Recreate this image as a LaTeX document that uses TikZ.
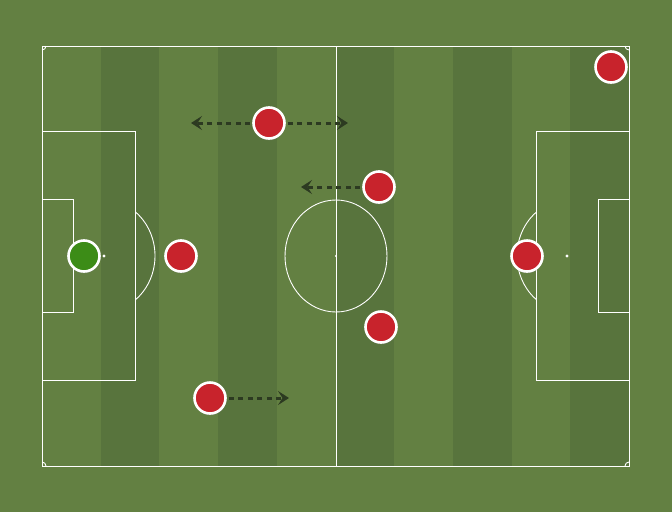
\documentclass[tikz,border=0pt]{standalone}
\usetikzlibrary{arrows.meta,shadows}
\definecolor{grass}{HTML}{638042}
\definecolor{darkgrass}{HTML}{58743D}
\definecolor{shirt}{HTML}{C8232C}
\definecolor{keeper}{HTML}{3C8C17}
\definecolor{runline}{HTML}{2C3A21}
\tikzset{
    player/.style={circle, draw=white, line width=2.6pt, minimum size=31pt, inner sep=0pt,
        drop shadow={shadow xshift=0.4pt, shadow yshift=-1.8pt, opacity=0.4}},
    run/.style={runline, line width=3pt, dash pattern=on 5pt off 4.5pt,
        -{Stealth[length=11pt,width=14pt,inset=4.5pt]}},
    pitchline/.style={white, line width=0.9pt}
}
\begin{document}
\begin{tikzpicture}[x=1pt,y=1pt]
            \useasboundingbox (0,0) rectangle (672,-512);
            \fill [grass] (0,0) rectangle (672,-512);
                % stripes
                \foreach \i in {1,3,5,7,9}
                    \fill [darkgrass] (42+\i*58.7,-46) rectangle +(58.7,-420);
                % pitch
                \draw [pitchline] (42,-46) rectangle (629,-466);
                \draw [pitchline] (336,-46) -- (336,-466);
                \draw [pitchline] (336,-256) ellipse (51 and 56);
                \fill [white] (336,-256) circle (1.2);
                % left half
                \draw [pitchline] (42,-131) rectangle (135.5,-380);
                \draw [pitchline] (42,-199) rectangle (73,-312);
                \fill [white] (104,-256) circle (1.6);
                \draw [pitchline] (135.5,-212) arc [start angle=51.6, end angle=-51.6, x radius=51.5, y radius=56];
                % right half
                \draw [pitchline] (536.5,-131) rectangle (629,-380);
                \draw [pitchline] (598,-199) rectangle (629,-312);
                \fill [white] (567,-256) circle (1.6);
                \draw [pitchline] (536.5,-212) arc [start angle=128.4, end angle=231.6, x radius=51.5, y radius=56];
                % corners
                \draw [pitchline] (42,-50) arc [start angle=-90, end angle=0, radius=4];
                \draw [pitchline] (625,-46) arc [start angle=180, end angle=270, radius=4];
                \draw [pitchline] (46,-466) arc [start angle=0, end angle=90, radius=4];
                \draw [pitchline] (629,-462) arc [start angle=90, end angle=180, radius=4];
                % players
                \node [player, fill=keeper] (gk) at (84,-256) {};
                \node [player, fill=shirt] (lb) at (181,-256) {};
                \node [player, fill=shirt] (mt) at (269,-123) {};
                \node [player, fill=shirt] (mc) at (379,-187) {};
                \node [player, fill=shirt] (mb) at (381,-327) {};
                \node [player, fill=shirt] (lw) at (210,-398) {};
                \node [player, fill=shirt] (rb) at (527,-256) {};
                \node [player, fill=shirt] (rc) at (611,-67) {};
                % runs
                \coordinate (mtl) at (191,-123);
                \coordinate (mtr) at (348,-123);
                \coordinate (mcl) at (301,-187);
                \coordinate (lwr) at (289,-398);
                \draw [run] (mt.west) ++(-2,0) -- (mtl);
                \draw [run] (mt.east) ++(2,0) -- (mtr);
                \draw [run] (mc.west) ++(-2,0) -- (mcl);
                \draw [run] (lw.east) ++(2,0) -- (lwr);
\end{tikzpicture}
\end{document}
